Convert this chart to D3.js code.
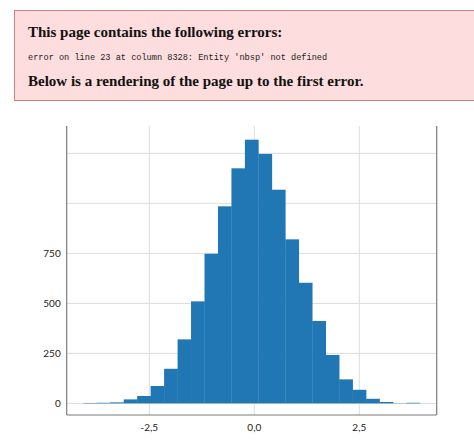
<!DOCTYPE html>
<html><head><meta charset="utf-8">
<script src="https://cdn.jsdelivr.net/npm/d3@7"></script>
<style>
body{margin:0;background:#fff;}
#err{position:absolute;left:14px;top:10px;width:480px;height:91px;background:#fddddd;border:1px solid #d08080;box-sizing:border-box;}
.h{position:absolute;left:13px;font-family:"Liberation Serif",serif;font-weight:bold;font-size:15px;color:#111;}
.m{position:absolute;left:13px;font-family:"Liberation Mono",monospace;font-size:8.6px;color:#222;}
</style></head><body>
<div id="err">
<div class="h" style="top:13px">This page contains the following errors:</div>
<div class="m" style="top:42px">error on line 23 at column 8328: Entity 'nbsp' not defined</div>
<div class="h" style="top:62px">Below is a rendering of the page up to the first error.</div>
</div>
<svg id="c" width="474" height="445" style="position:absolute;left:0;top:0"></svg>
<script>
const binStart=-4.071, binWidth=0.3206;
const counts=[2,3,5,20,37,87,173,320,510,748,985,1175,1318,1247,1068,820,603,412,242,120,68,23,7,1,3];
const xTicks=[-2.5,0,2.5];
const yTicks=[0,250,500,750];
const yGrid=[0,250,500,750,1000,1250];

const svg=d3.select("#c");
const L=66.7,R=436.7,T=126,B=415;
const x=d3.scaleLinear().domain([-4.5,4.3]).range([L,R]);
// calibrate: 0 at 254.3, 42 px/unit
x.domain([(L-254.3)/42,(R-254.3)/42]);
const y=d3.scaleLinear().domain([-58,1386.5]).range([B,T]);
const fmt=d=>d3.format(".1f")(d).replace(".",",").replace("−","-");

const g=svg.append("g");
g.selectAll(".gy").data(yGrid).join("line").attr("x1",L).attr("x2",R)
 .attr("y1",d=>y(d)).attr("y2",d=>y(d)).attr("stroke","#dcdcdc");
g.selectAll(".gx").data(xTicks).join("line").attr("y1",T).attr("y2",B)
 .attr("x1",d=>x(d)).attr("x2",d=>x(d)).attr("stroke","#dcdcdc");

g.selectAll("rect").data(counts).join("rect")
 .attr("x",(d,i)=>x(binStart+i*binWidth))
 .attr("width",(d,i)=>x(binStart+(i+1)*binWidth)-x(binStart+i*binWidth)+0.3)
 .attr("y",d=>y(d)).attr("height",d=>y(0)-y(d)).attr("fill","#2077b4");

const ax="#7a7a7a";
svg.append("line").attr("x1",L).attr("x2",L).attr("y1",T).attr("y2",B).attr("stroke",ax).attr("stroke-width",1.2);
svg.append("line").attr("x1",R).attr("x2",R).attr("y1",T).attr("y2",B).attr("stroke",ax).attr("stroke-width",1.2);
svg.append("line").attr("x1",L).attr("x2",R).attr("y1",B).attr("y2",B).attr("stroke",ax).attr("stroke-width",1.2);

svg.selectAll(".yl").data(yTicks).join("text").attr("x",L-6).attr("y",d=>y(d)+3.5)
 .attr("text-anchor","end").attr("font-family","Lato, sans-serif").attr("font-size",10).attr("fill","#222").text(d=>d);
svg.selectAll(".xl").data(xTicks).join("text").attr("x",d=>x(d)).attr("y",B+16)
 .attr("text-anchor","middle").attr("font-family","Lato, sans-serif").attr("font-size",10).attr("fill","#222").text(fmt);
</script></body></html>
